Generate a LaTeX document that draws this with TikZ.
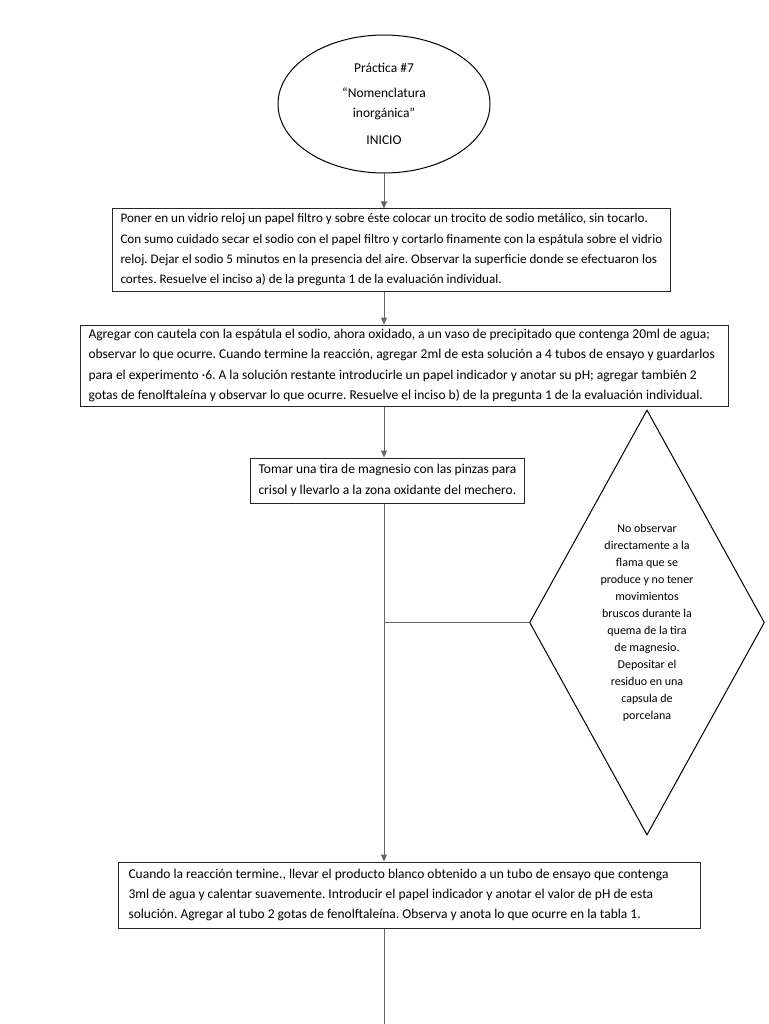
\documentclass[tikz,border=0pt]{standalone}
\usepackage{fontspec}
\setmainfont{Carlito}
\usepackage{tikz}
\usetikzlibrary{shapes,positioning}
\usetikzlibrary{arrows.meta}
\frenchspacing

\tikzset{
  caja/.style={draw=black!85, line width=1pt, align=flush left, anchor=west, inner xsep=8pt, inner ysep=0pt,
               font=\fontsize{13.5}{20.3}\selectfont},
  conector/.style={draw=black!60, line width=1pt},
  flecha/.style={conector, -{Triangle[length=7pt,width=6pt]}}
}

\begin{document}
\begin{tikzpicture}[x=1pt,y=-1pt]
\useasboundingbox (0,0) rectangle (768,1024);

% inicio
\node[ellipse, draw=black, line width=1pt, minimum width=212, minimum height=138, align=center,
      font=\fontsize{13.5}{20}\selectfont] (inicio) at (384,104)
  {Práctica \#7\\[5pt] “Nomenclatura\\ inorgánica”\\[7pt] INICIO};

% pasos
\node[caja, minimum width=556, minimum height=82, font=\fontsize{13.1}{20.3}\selectfont] (paso1) at (112,250)
  {Poner en un vidrio reloj un papel filtro y sobre éste colocar un trocito de sodio metálico, sin tocarlo.\\
   Con sumo cuidado secar el sodio con el papel filtro y cortarlo finamente con la espátula sobre el vidrio\\
   reloj. Dejar el sodio 5 minutos en la presencia del aire. Observar la superficie donde se efectuaron los\\
   cortes. Resuelve el inciso a) de la pregunta 1 de la evaluación individual.};
\node[caja, minimum height=81, text width=632] (paso2) at (80,365.5)
  {Agregar con cautela con la espátula el sodio, ahora oxidado, a un vaso de precipitado que contenga 20ml de agua;\\
   observar lo que ocurre. Cuando termine la reacción, agregar 2ml de esta solución a 4 tubos de ensayo y guardarlos\\
   para el experimento ·6. A la solución restante introducirle un papel indicador y anotar su pH; agregar también 2\\
   gotas de fenolftaleína y observar lo que ocurre. Resuelve el inciso b) de la pregunta 1 de la evaluación individual.};
\node[caja, minimum width=273, minimum height=45] (paso3) at (250,480.5)
  {Tomar una tira de magnesio con las pinzas para\\
   crisol y llevarlo a la zona oxidante del mechero.};
\node[caja, minimum height=66, inner xsep=10pt, text width=562] (paso4) at (118,895)
  {Cuando la reacción termine., llevar el producto blanco obtenido a un tubo de ensayo que contenga\\
   3ml de agua y calentar suavemente. Introducir el papel indicador y anotar el valor de pH de esta\\
   solución. Agregar al tubo 2 gotas de fenolftaleína. Observa y anota lo que ocurre en la tabla 1.};

% precaucion
\node[diamond, draw=black, line width=1pt, minimum width=235, minimum height=425, inner sep=0pt] (aviso) at (647,622.5) {};
\node[align=center, font=\fontsize{12}{17}\selectfont] (avisotxt) at (aviso.center)
  {No observar\\ directamente a la\\ flama que se\\ produce y no tener\\ movimientos\\ bruscos durante la\\
   quema de la tira\\ de magnesio.\\ Depositar el\\ residuo en una\\ capsula de\\ porcelana};

\coordinate (fin) at (384,1024);

\draw[flecha] (inicio.south) -- (inicio.south |- paso1.north);
\draw[flecha] (inicio.south |- paso1.south) -- (inicio.south |- paso2.north);
\draw[flecha] (inicio.south |- paso2.south) -- (inicio.south |- paso3.north);
\draw[flecha] (inicio.south |- paso3.south) -- (inicio.south |- paso4.north);
\draw[conector] (inicio.south |- aviso.west) -- (aviso.west);
\draw[conector] (inicio.south |- paso4.south) -- (fin);
\end{tikzpicture}
\end{document}
